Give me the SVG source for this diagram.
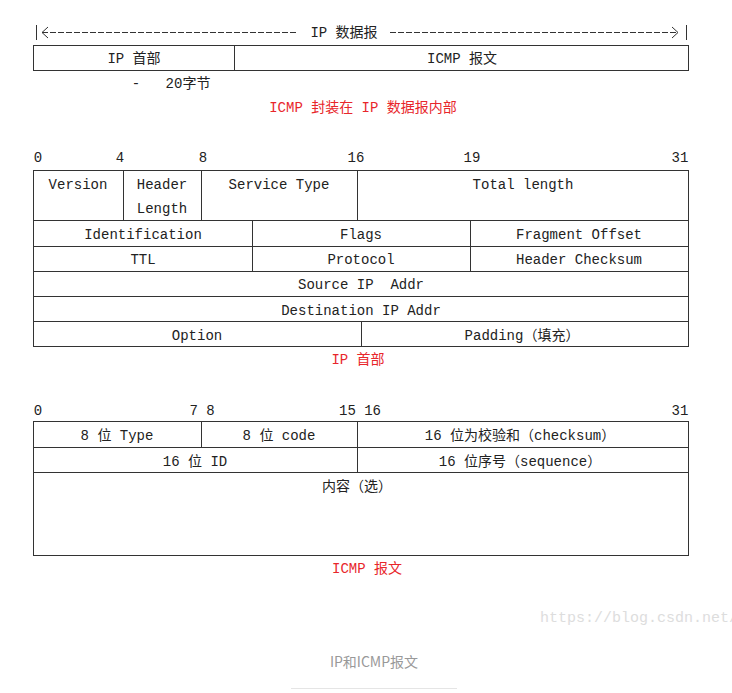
<svg xmlns="http://www.w3.org/2000/svg" width="732" height="693" viewBox="0 0 732 693">
<style>
text{font-family:"Liberation Mono","Noto Sans CJK SC",monospace;font-size:14px;fill:#222;text-anchor:middle}
.r{fill:#e8262b}
.b{fill:none;stroke:#333;stroke-width:1}
.l{stroke:#333;stroke-width:1}
</style>
<rect width="732" height="693" fill="#fff"/>
<g id="datagram">
<line class="l" x1="36.5" y1="25" x2="36.5" y2="40"/>
<line class="l" x1="686.5" y1="25" x2="686.5" y2="40"/>
<line class="l" x1="42" y1="32.5" x2="298" y2="32.5" stroke-dasharray="6,2"/>
<line class="l" x1="390" y1="32.5" x2="678" y2="32.5" stroke-dasharray="6,2"/>
<path class="b" d="M48,27 L42,32.5 L48,38 M672,27 L678,32.5 L672,38"/>
<text x="344" y="37">IP 数据报</text>
<rect class="b" x="33.5" y="45.5" width="655" height="25"/>
<line class="l" x1="234.5" y1="45" x2="234.5" y2="70"/>
<text x="134" y="63">IP 首部</text>
<text x="462" y="63">ICMP 报文</text>
<text x="136" y="88">-</text>
<text x="188" y="88">20字节</text>
<text class="r" x="363" y="112">ICMP 封装在 IP 数据报内部</text>
</g>
<g id="ip-header">
<text x="38" y="162">0</text><text x="120" y="162">4</text><text x="203" y="162">8</text>
<text x="356" y="162">16</text><text x="472" y="162">19</text><text x="680" y="162">31</text>
<rect class="b" x="33.5" y="170.5" width="655" height="176"/>
<path class="l" d="M33,220.5H688M33,246.5H688M33,271.5H688M33,296.5H688M33,321.5H688M123.5,170V220M201.5,170V220M357.5,170V220M252.5,220V271M470.5,220V271M361.5,321V346"/>
<text x="78" y="189">Version</text>
<text x="162" y="189">Header</text><text x="162" y="213">Length</text>
<text x="279" y="189">Service Type</text>
<text x="523" y="189">Total length</text>
<text x="143" y="239">Identification</text><text x="361" y="239">Flags</text><text x="579" y="239">Fragment Offset</text>
<text x="143" y="264">TTL</text><text x="361" y="264">Protocol</text><text x="579" y="264">Header Checksum</text>
<text x="361" y="289" xml:space="preserve">Source IP  Addr</text>
<text x="361" y="315">Destination IP Addr</text>
<text x="197" y="340">Option</text>
<text x="522" y="340">Padding（填充）</text>
<text class="r" x="358" y="364">IP 首部</text>
</g>
<g id="icmp">
<text x="38" y="415">0</text><text x="202" y="415" xml:space="preserve">7 8</text>
<text x="360" y="415" xml:space="preserve">15 16</text><text x="680" y="415">31</text>
<rect class="b" x="33.5" y="421.5" width="655" height="134"/>
<path class="l" d="M33,447.5H688M33,472.5H688M201.5,421V447M357.5,421V472"/>
<text x="117" y="440">8 位 Type</text>
<text x="279" y="440">8 位 code</text>
<text x="520" y="440">16 位为校验和（checksum）</text>
<text x="195" y="466">16 位 ID</text>
<text x="520" y="466">16 位序号（sequence）</text>
<text x="357" y="491">内容（选）</text>
<text class="r" x="367" y="573">ICMP 报文</text>
</g>
<text x="540" y="622" style="text-anchor:start;fill:#ddd;font-family:'Liberation Mono',monospace;font-size:15px">https://blog.csdn.net/z</text>
<text x="374" y="667" style="font-family:'Noto Sans CJK SC',sans-serif;fill:#999;font-size:14px">IP和ICMP报文</text>
<line x1="291" y1="688.5" x2="457" y2="688.5" stroke="#e5e5e5"/>
</svg>
